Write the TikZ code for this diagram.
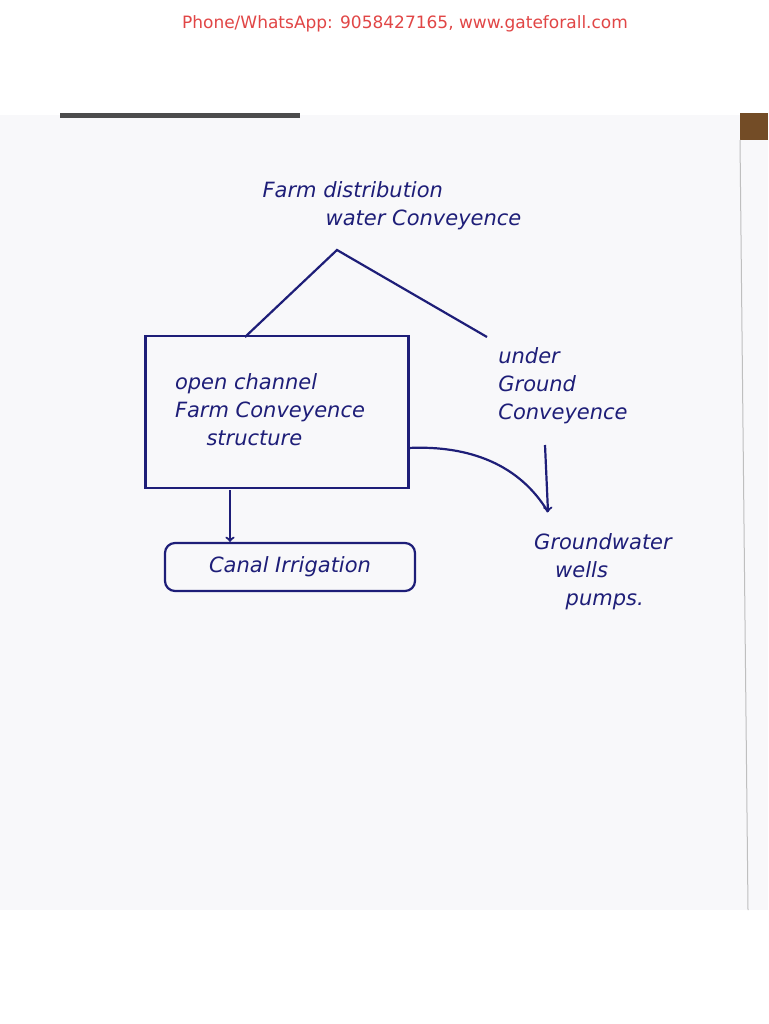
\documentclass[tikz,border=0pt]{standalone}
\usepackage{fontspec}
\setmainfont{DejaVu Sans}
\begin{document}
\begin{tikzpicture}[x=1pt,y=-1pt,
  ink/.style={draw=inkc,line width=2.2pt},
  lbl/.style={text=inkc,font=\fontsize{21}{28}\selectfont\itshape,align=center},
  ]
\definecolor{inkc}{RGB}{30,30,120}
\definecolor{paper}{RGB}{248,248,250}
\useasboundingbox (0,0) rectangle (768,1024);
\fill[white] (0,0) rectangle (768,1024);
\fill[paper] (0,115) rectangle (768,910);
\fill[black!70] (60,113) rectangle (300,118);
\fill[brown!60!black] (740,113) rectangle (768,140);
\draw[black!25,line width=1pt] (740,140) -- (748,910);
\node[text={rgb,255:red,225;green,70;blue,70},font=\fontsize{17}{20}\selectfont] (hdr) at (405,24) {Phone/WhatsApp: 9058427165, www.gateforall.com};

\node[lbl,align=left] (title) at (392,206) {Farm distribution\\\hspace*{3em}water Conveyence};
\coordinate (apex) at (337,250);
\coordinate (lft) at (245,337);
\coordinate (rgt) at (487,337);
\draw[ink] (lft) -- (apex) -- (rgt);

\node[ink,rectangle,minimum width=263pt,minimum height=152pt] (box) at (277,412) {};
\node[lbl,align=left] (boxt) at (270,410) {open channel\\Farm Conveyence\\\hspace*{1.5em}structure};

\node[lbl,align=left] (ug) at (563,386) {under\\Ground\\Conveyence};

\node[ink,rounded corners=10pt,minimum width=250pt,minimum height=48pt,lbl] (canal) at (290,567) {Canal Irrigation};
\coordinate (bx) at (230,490);
\draw[ink,->] (bx) -- (canal.north -| bx);

\node[lbl,align=left] (gw) at (603,572) {Groundwater\\\hspace*{1em}wells\\\hspace*{1.5em}pumps.};
\coordinate (gwtop) at (548,512);
\coordinate (ugb) at (545,445);
\draw[ink,->] (ugb) -- (gwtop);
\coordinate (bxr) at (408,448);
\draw[ink] (bxr) .. controls (470,445) and (520,465) .. (gwtop);
\end{tikzpicture}
\end{document}
